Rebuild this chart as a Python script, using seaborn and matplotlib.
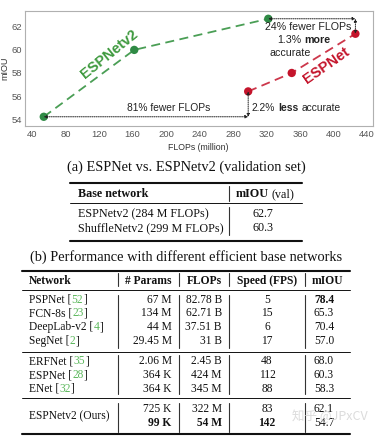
import numpy as np
import pandas as pd
import matplotlib
matplotlib.use("Agg")
import matplotlib.pyplot as plt
import seaborn as sns
from matplotlib.transforms import IdentityTransform
from matplotlib.lines import Line2D

# ---- chart data ----
v2_flops = [54, 162, 322]
v2_miou = [54.2, 60.0, 62.7]
esp_flops = [298, 350, 426]
esp_miou = [56.4, 58.0, 61.4]
x_ticks = [40, 80, 120, 160, 200, 240, 280, 320, 360, 400, 440]
y_ticks = [54, 56, 58, 60, 62]

# ---- table (a) ----
base_names = ["ESPNetv2 (284 M FLOPs)", "ShuffleNetv2 (299 M FLOPs)"]
base_miou = ["62.7", "60.3"]

# ---- table (b) ----
net_names = ["PSPNet", "FCN-8s", "DeepLab-v2", "SegNet", "ERFNet", "ESPNet", "ENet"]
net_refs = ["52", "23", "4", "2", "35", "28", "32"]
net_params = ["67 M", "134 M", "44 M", "29.45 M", "2.06 M", "364 K", "364 K", "725 K", "99 K"]
net_flops = ["82.78 B", "62.71 B", "37.51 B", "31 B", "2.45 B", "424 M", "345 M", "322 M", "54 M"]
net_speed = ["5", "15", "6", "17", "48", "112", "88", "83", "142"]
net_miou = ["78.4", "65.3", "70.4", "57.0", "68.0", "60.3", "58.3", "62.1", "54.7"]

W, H = 381, 438
GREEN_LINE = "#4a9e55"
GREEN_DOT = "#2f8a45"
GREEN_TXT = "#3f9a3f"
RED = "#c4142b"
CITE = "#5cb85c"
INK = "#111111"

sns.set_style("white")
plt.rcParams["font.family"] = ["Liberation Sans", "DejaVu Sans"]

fig = plt.figure(figsize=(W / 100, H / 100), dpi=100)
renderer = fig.canvas.get_renderer()


def fx(x):
    return x / W


def fy(y):
    return 1 - y / H


def rich(x, y, parts, size, ha="left", family="Liberation Serif"):
    # parts: (text, weight, color); x,y in pixels from top left
    items = []
    for s, wt, c in parts:
        lead = len(s) - len(s.lstrip(" "))
        trail = len(s) - len(s.rstrip(" "))
        t = fig.text(0, 0, s.strip(" "), fontsize=size, fontweight=wt, color=c,
                     family=family, va="center", ha="left", transform=IdentityTransform())
        a = fig.text(0, 0, "a a", fontsize=size, fontweight=wt, family=family)
        b = fig.text(0, 0, "aa", fontsize=size, fontweight=wt, family=family)
        sp = a.get_window_extent(renderer).width - b.get_window_extent(renderer).width
        a.remove()
        b.remove()
        items.append((t, lead * sp, t.get_window_extent(renderer).width, trail * sp))
    total = sum(l + w + r for _, l, w, r in items)
    x0 = x if ha == "left" else (x - total / 2 if ha == "center" else x - total)
    for t, l, w, r in items:
        x0 += l
        t.set_position((x0, H - y))
        x0 += w + r


def hline(y, x0, x1, lw):
    fig.add_artist(Line2D([fx(x0), fx(x1)], [fy(y), fy(y)], color=INK, lw=lw,
                          transform=fig.transFigure))


def vline(x, y0, y1, lw=0.8):
    fig.add_artist(Line2D([fx(x), fx(x)], [fy(y0), fy(y1)], color="#333333", lw=lw,
                          transform=fig.transFigure))


# ================= chart =================
ax = fig.add_axes([fx(24.5), fy(126), fx(373) - fx(24.5), fy(10.7) - fy(126)])
sns.lineplot(x=v2_flops, y=v2_miou, ax=ax, color=GREEN_LINE, linestyle=(0, (5, 3)), lw=1.3)
sns.lineplot(x=esp_flops, y=esp_miou, ax=ax, color=RED, linestyle=(0, (5, 3)), lw=1.3, alpha=0.85)
sns.scatterplot(x=v2_flops, y=v2_miou, ax=ax, color=GREEN_DOT, s=36, edgecolor="none", zorder=3)
sns.scatterplot(x=esp_flops, y=esp_miou, ax=ax, color=RED, s=36, edgecolor="none", zorder=3)
ax.set_xlim(31, 447)
ax.set_ylim(53.4, 63.4)
ax.set_xticks(x_ticks)
ax.set_yticks(y_ticks)
ax.tick_params(axis="both", length=0, labelsize=6.8, labelcolor="#555555")
ax.tick_params(axis="x", pad=3)
ax.tick_params(axis="y", pad=1.5)
for sp in ax.spines.values():
    sp.set_color("#b0b0b0")
    sp.set_linewidth(0.8)
ax.set_xlabel("FLOPs (million)", fontsize=6.3, color="#333333", labelpad=3)
ax.set_ylabel("mIOU", fontsize=6.5, color="#333333", labelpad=2)

arrow = dict(arrowstyle="<|-|>", linestyle=(0, (1, 1.2)), lw=0.7, color="#222222",
             mutation_scale=4, shrinkA=0, shrinkB=0)
ax.annotate("", xy=(esp_flops[0], v2_miou[0]), xytext=(v2_flops[0], v2_miou[0]), arrowprops=arrow)
ax.annotate("", xy=(esp_flops[0], esp_miou[0]), xytext=(esp_flops[0], v2_miou[0]), arrowprops=arrow)
ax.annotate("", xy=(esp_flops[-1], v2_miou[-1]), xytext=(v2_flops[-1], v2_miou[-1]), arrowprops=arrow)
ax.annotate("", xy=(esp_flops[-1], esp_miou[-1]), xytext=(esp_flops[-1], v2_miou[-1]), arrowprops=arrow)

ax.text(132, 59.6, "ESPNetv2", color=GREEN_TXT, fontsize=10.5, fontweight="bold",
        rotation=39, ha="center", va="center", rotation_mode="anchor")
ax.text(391, 58.6, "ESPNet", color=RED, fontsize=10.5, fontweight="bold",
        rotation=35, ha="center", va="center", rotation_mode="anchor")

sans = "Liberation Sans"
rich(169, 108.3, [("81% fewer FLOPs", "normal", "#222222")], 7.4, "center", sans)
rich(252, 108.3, [("2.2% ", "normal", "#222222"), ("less", "bold", "#222222"),
                  (" accurate", "normal", "#222222")], 7.4, "left", sans)
rich(308, 26.7, [("24% fewer FLOPs", "normal", "#222222")], 7.7, "center", sans)
rich(304, 40, [("1.3% ", "normal", "#222222"), ("more", "bold", "#222222")], 7.7, "center", sans)
rich(269, 52.5, [("accurate", "normal", "#222222")], 7.7, "left", sans)

# ================= table (a) =================
rich(186.5, 167, [("(a) ESPNet vs. ESPNetv2 (validation set)", "normal", INK)], 10.4, "center")
hline(182.7, 70, 301.7, 1.5)
rich(78, 194, [("Base network", "bold", INK)], 8.7)
rich(264.7, 194, [("mIOU", "bold", INK), (" (val)", "normal", INK)], 8.7, "center")
hline(203.3, 70, 301.7, 0.7)
vline(229, 185.7, 200.7)
vline(229, 206.7, 235)
for i, (name, val) in enumerate(zip(base_names, base_miou)):
    yy = 214 + 14.3 * i
    rich(78, yy, [(name, "normal", INK)], 8.7)
    rich(263, yy, [(val, "normal", INK)], 8.7, "center")
hline(240.7, 70, 301.7, 1.5)

# ================= table (b) =================
rich(186, 256.7, [("(b) Performance with different efficient base networks", "normal", INK)], 10.4, "center")
hline(271, 22, 350, 1.5)
hdr_y = 280.7
rich(29.3, hdr_y, [("Network", "bold", INK)], 8.3)
rich(148.5, hdr_y, [("# Params", "bold", INK)], 8.3, "center")
rich(204, hdr_y, [("FLOPs", "bold", INK)], 8.3, "center")
rich(267, hdr_y, [("Speed (FPS)", "bold", INK)], 8.3, "center")
rich(327, hdr_y, [("mIOU", "bold", INK)], 8.3, "center")
hline(290, 22, 350, 0.7)

row_y = [300, 313.5, 327.3, 341, 361, 375, 388.5, 409, 423.3]
bold_rows = {8: ["params", "flops", "speed"], 0: ["miou"]}
for i, yy in enumerate(row_y):
    if i < len(net_names):
        rich(29.3, yy, [(net_names[i] + " [", "normal", INK), (net_refs[i], "normal", CITE),
                        ("]", "normal", INK)], 8.3)
    wts = bold_rows.get(i, [])
    rich(171.7, yy, [(net_params[i], "bold" if "params" in wts else "normal", INK)], 8.3, "right")
    rich(221.7, yy, [(net_flops[i], "bold" if "flops" in wts else "normal", INK)], 8.3, "right")
    rich(267, yy, [(net_speed[i], "bold" if "speed" in wts else "normal", INK)], 8.3, "center")
    rich(324, yy, [(net_miou[i], "bold" if "miou" in wts else "normal", INK)], 8.3, "center")
rich(29.3, 416, [("ESPNetv2 (Ours)", "normal", INK)], 8.3)
hline(351.7, 22, 350, 0.7)
hline(398.3, 22, 350, 0.7)
hline(434, 22, 350, 1.5)

for xs in [118.3, 179, 229.3, 305]:
    vline(xs, 273.3, 286)
    vline(xs, 295, 348.3)
    vline(xs, 355, 394.3)
    vline(xs, 403.3, 431.7)

# watermark
fig.text(fx(330), fy(416), "知乎 @JPxCV", fontsize=9, color="#d8d8d8", alpha=0.9,
         ha="center", va="center", family=["Noto Sans CJK SC", "DejaVu Sans"])

fig.savefig("out.png", dpi=100)
